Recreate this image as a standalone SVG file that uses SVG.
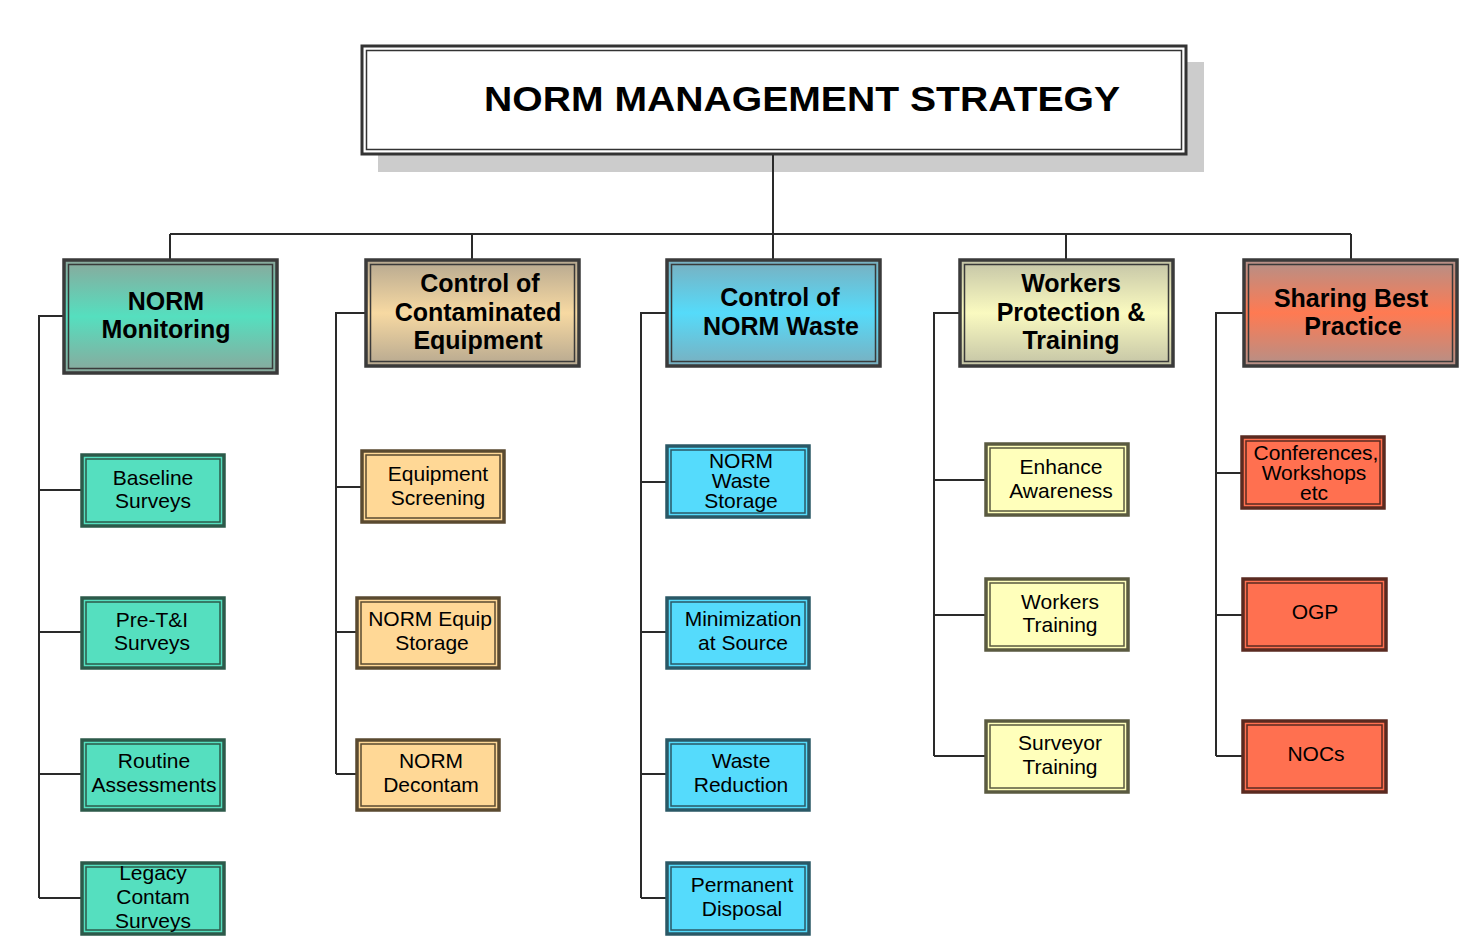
<svg xmlns="http://www.w3.org/2000/svg" width="1475" height="947" viewBox="0 0 1475 947">
<defs>
<linearGradient id="gTeal" x1="0" y1="0" x2="0" y2="1"><stop offset="0" stop-color="#8aa89c"/><stop offset="0.5" stop-color="#55dfbf"/><stop offset="1" stop-color="#8aa89c"/></linearGradient>
<linearGradient id="gTan" x1="0" y1="0" x2="0" y2="1"><stop offset="0" stop-color="#b6a890"/><stop offset="0.5" stop-color="#f7d9a2"/><stop offset="1" stop-color="#b6a890"/></linearGradient>
<linearGradient id="gBlue" x1="0" y1="0" x2="0" y2="1"><stop offset="0" stop-color="#7aafbf"/><stop offset="0.5" stop-color="#55dbfa"/><stop offset="1" stop-color="#7aafbf"/></linearGradient>
<linearGradient id="gYel" x1="0" y1="0" x2="0" y2="1"><stop offset="0" stop-color="#c4c4a6"/><stop offset="0.5" stop-color="#fafac0"/><stop offset="1" stop-color="#c4c4a6"/></linearGradient>
<linearGradient id="gOr" x1="0" y1="0" x2="0" y2="1"><stop offset="0" stop-color="#b49088"/><stop offset="0.5" stop-color="#ff7a52"/><stop offset="1" stop-color="#b49088"/></linearGradient>
</defs>
<style>
.o{stroke-width:3.5}
.i{fill:none;stroke-width:1.5}
.hd{stroke:#3a3a3a}
.ht{font-family:"Liberation Sans",Arial,sans-serif;font-weight:bold;font-size:25px;fill:#000;text-anchor:middle}
.ct{font-family:"Liberation Sans",Arial,sans-serif;font-size:21px;fill:#000;text-anchor:middle}
.ln{fill:none;stroke:#2a2a2a;stroke-width:2}
.c1{fill:#55dfbf;stroke:#2c5a4a}
.c2{fill:#ffd896;stroke:#5a4a30}
.c3{fill:#55dbfc;stroke:#2a5866}
.c4{fill:#ffffbb;stroke:#5a5a40}
.c5{fill:#ff7050;stroke:#5a2a20}
.s1{stroke:#2c5a4a}.s2{stroke:#5a4a30}.s3{stroke:#2a5866}.s4{stroke:#5a5a40}.s5{stroke:#5a2a20}
</style>
<rect width="1475" height="947" fill="#fff"/>
<g id="title">
<rect x="378" y="62" width="826" height="110" fill="#cccccc"/>
<rect x="362" y="46" width="824" height="108" fill="#fff" stroke="#333" stroke-width="3"/>
<rect x="366.5" y="50.5" width="815" height="99" class="i" stroke="#333"/>
<text x="802" y="111" font-family="Liberation Sans,Arial,sans-serif" font-weight="bold" font-size="35" text-anchor="middle" textLength="636" lengthAdjust="spacingAndGlyphs">NORM MANAGEMENT STRATEGY</text>
</g>
<g id="connectors">
<path class="ln" d="M773 155V234M170 234H1351M170 234V259M472 234V259M773 234V259M1066 234V259M1351 234V259"/>
<path class="ln" d="M63 316H39V898M39 490H81M39 632H81M39 774H81M39 898H81"/>
<path class="ln" d="M365 313H336V774M336 487H361M336 632H356M336 774H356"/>
<path class="ln" d="M666 313H641V898M641 482H666M641 632H666M641 774H666M641 898H666"/>
<path class="ln" d="M959 313H934V756M934 480H985M934 615H985M934 756H985"/>
<path class="ln" d="M1243 313H1216V756M1216 473H1241M1216 615H1242M1216 756H1242"/>
</g>
<g id="h1">
<rect x="64" y="260" width="213" height="113" fill="url(#gTeal)" class="o hd"/>
<rect x="68.5" y="264.5" width="204" height="104" class="i hd"/>
<text class="ht" x="166" y="310">NORM</text><text class="ht" x="166" y="338">Monitoring</text>
</g>
<g id="h2">
<rect x="366" y="260" width="213" height="106" fill="url(#gTan)" class="o hd"/>
<rect x="370.5" y="264.5" width="204" height="97" class="i hd"/>
<text class="ht" x="480" y="292">Control of</text><text class="ht" x="478" y="321">Contaminated</text><text class="ht" x="478" y="349">Equipment</text>
</g>
<g id="h3">
<rect x="667" y="260" width="213" height="106" fill="url(#gBlue)" class="o hd"/>
<rect x="671.5" y="264.5" width="204" height="97" class="i hd"/>
<text class="ht" x="780" y="306">Control of</text><text class="ht" x="781" y="335">NORM Waste</text>
</g>
<g id="h4">
<rect x="960" y="260" width="213" height="106" fill="url(#gYel)" class="o hd"/>
<rect x="964.5" y="264.5" width="204" height="97" class="i hd"/>
<text class="ht" x="1071" y="292">Workers</text><text class="ht" x="1071" y="321">Protection &amp;</text><text class="ht" x="1071" y="349">Training</text>
</g>
<g id="h5">
<rect x="1244" y="260" width="213" height="106" fill="url(#gOr)" class="o hd"/>
<rect x="1248.5" y="264.5" width="204" height="97" class="i hd"/>
<text class="ht" x="1351" y="307">Sharing Best</text><text class="ht" x="1353" y="335">Practice</text>
</g>
<g id="baseline"><rect x="82" y="455" width="142" height="71" class="c1 o"/><rect x="86" y="459" width="134" height="63" class="i s1"/><text class="ct" x="153" y="485">Baseline</text><text class="ct" x="153" y="508">Surveys</text></g>
<g id="pretni"><rect x="82" y="598" width="142" height="70" class="c1 o"/><rect x="86" y="602" width="134" height="62" class="i s1"/><text class="ct" x="152" y="627">Pre-T&amp;I</text><text class="ct" x="152" y="650">Surveys</text></g>
<g id="routine"><rect x="82" y="740" width="142" height="70" class="c1 o"/><rect x="86" y="744" width="134" height="62" class="i s1"/><text class="ct" x="154" y="768">Routine</text><text class="ct" x="154" y="792">Assessments</text></g>
<g id="legacy"><rect x="82" y="863" width="142" height="71" class="c1 o"/><rect x="86" y="867" width="134" height="63" class="i s1"/><text class="ct" x="153" y="880">Legacy</text><text class="ct" x="153" y="904">Contam</text><text class="ct" x="153" y="928">Surveys</text></g>
<g id="eqscreen"><rect x="362" y="451" width="142" height="71" class="c2 o"/><rect x="366" y="455" width="134" height="63" class="i s2"/><text class="ct" x="438" y="481">Equipment</text><text class="ct" x="438" y="505">Screening</text></g>
<g id="eqstorage"><rect x="357" y="598" width="142" height="70" class="c2 o"/><rect x="361" y="602" width="134" height="62" class="i s2"/><text class="ct" x="430" y="626">NORM Equip</text><text class="ct" x="432" y="650">Storage</text></g>
<g id="decontam"><rect x="357" y="740" width="142" height="70" class="c2 o"/><rect x="361" y="744" width="134" height="62" class="i s2"/><text class="ct" x="431" y="768">NORM</text><text class="ct" x="431" y="792">Decontam</text></g>
<g id="wstorage"><rect x="667" y="446" width="142" height="71" class="c3 o"/><rect x="671" y="450" width="134" height="63" class="i s3"/><text class="ct" x="741" y="468">NORM</text><text class="ct" x="741" y="488">Waste</text><text class="ct" x="741" y="508">Storage</text></g>
<g id="minim"><rect x="667" y="598" width="142" height="70" class="c3 o"/><rect x="671" y="602" width="134" height="62" class="i s3"/><text class="ct" x="743" y="626">Minimization</text><text class="ct" x="743" y="650">at Source</text></g>
<g id="wreduce"><rect x="667" y="740" width="142" height="70" class="c3 o"/><rect x="671" y="744" width="134" height="62" class="i s3"/><text class="ct" x="741" y="768">Waste</text><text class="ct" x="741" y="792">Reduction</text></g>
<g id="pdisposal"><rect x="667" y="863" width="142" height="71" class="c3 o"/><rect x="671" y="867" width="134" height="63" class="i s3"/><text class="ct" x="742" y="892">Permanent</text><text class="ct" x="742" y="916">Disposal</text></g>
<g id="awareness"><rect x="986" y="444" width="142" height="71" class="c4 o"/><rect x="990" y="448" width="134" height="63" class="i s4"/><text class="ct" x="1061" y="474">Enhance</text><text class="ct" x="1061" y="498">Awareness</text></g>
<g id="wtraining"><rect x="986" y="579" width="142" height="71" class="c4 o"/><rect x="990" y="583" width="134" height="63" class="i s4"/><text class="ct" x="1060" y="609">Workers</text><text class="ct" x="1060" y="632">Training</text></g>
<g id="straining"><rect x="986" y="721" width="142" height="71" class="c4 o"/><rect x="990" y="725" width="134" height="63" class="i s4"/><text class="ct" x="1060" y="750">Surveyor</text><text class="ct" x="1060" y="774">Training</text></g>
<g id="conferences"><rect x="1242" y="437" width="142" height="71" class="c5 o"/><rect x="1246" y="441" width="134" height="63" class="i s5"/><text class="ct" x="1316" y="460">Conferences,</text><text class="ct" x="1314" y="480">Workshops</text><text class="ct" x="1314" y="500">etc</text></g>
<g id="ogp"><rect x="1243" y="579" width="143" height="71" class="c5 o"/><rect x="1247" y="583" width="135" height="63" class="i s5"/><text class="ct" x="1315" y="619">OGP</text></g>
<g id="nocs"><rect x="1243" y="721" width="143" height="71" class="c5 o"/><rect x="1247" y="725" width="135" height="63" class="i s5"/><text class="ct" x="1316" y="761">NOCs</text></g>
</svg>
